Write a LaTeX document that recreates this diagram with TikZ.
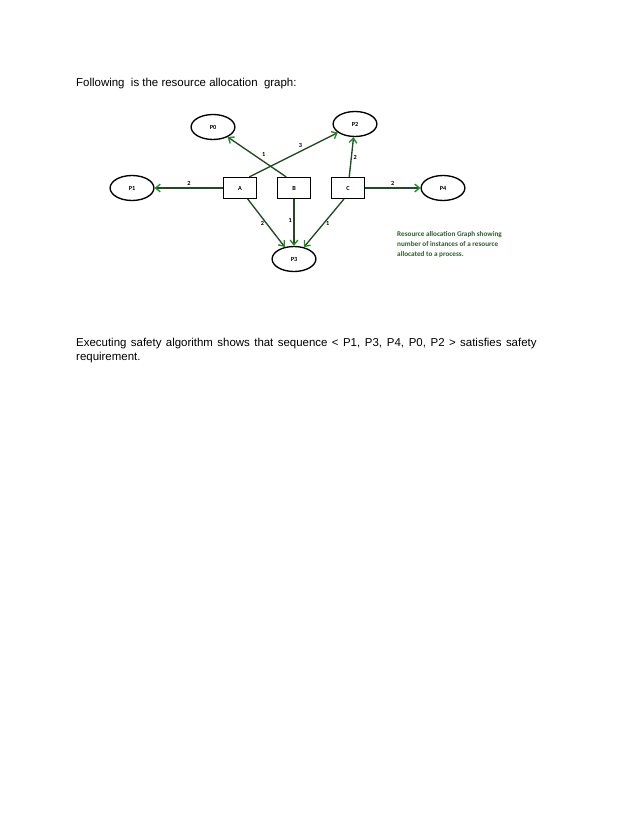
\documentclass[tikz,border=0pt]{standalone}
\usepackage{fontspec}
\setmainfont{Liberation Sans}
\newfontfamily\diagfont{Carlito}
\usetikzlibrary{shapes,arrows.meta,positioning}
\definecolor{linegreen}{rgb}{.13,.30,.13}
\definecolor{tipgreen}{rgb}{.12,.55,.15}
\definecolor{capgreen}{rgb}{.18,.36,.18}
\begin{document}
\begin{tikzpicture}[x=0.96pt,y=-0.96pt,% pixel grid of the page, y down
			proc/.style={ellipse,draw=black,line width=1.3pt,minimum width=42pt,minimum height=24pt,
				inner sep=0pt,font=\diagfont\bfseries\fontsize{6}{7}\selectfont},
			res/.style={rectangle,draw=black,line width=1.2pt,minimum width=31pt,minimum height=20pt,
				inner sep=0pt,font=\diagfont\bfseries\fontsize{6}{7}\selectfont},
			num/.style={font=\diagfont\bfseries\fontsize{6}{7}\selectfont,inner sep=1.5pt},
			every edge/.style={draw=linegreen,line width=1.3pt,
				-{Straight Barb[color=tipgreen,length=4.5pt,width=7.5pt,line width=1.3pt]}}
		]
		\useasboundingbox (0,0) rectangle (638,826);
		% texts of the page
		\node[anchor=base west,inner sep=0pt,font=\fontsize{11}{13}\selectfont](T1) at (76,87)
			{Following\ \ is\ the\ resource\ allocation\ \ graph:};
		\node[anchor=north west,inner sep=0pt,text width=442pt,align=justify,
			font=\fontsize{11}{13.4}\selectfont](T2) at (76,338)
			{Executing safety algorithm shows that sequence < P1, P3, P4, P0, P2 > satisfies safety requirement.};
		% processes
		\node[proc](P0) at (213,127) {P0};
		\node[proc](P2) at (355,124) {P2};
		\node[proc](P1) at (132,188) {P1};
		\node[proc](P4) at (443,188) {P4};
		\node[proc](P3) at (294,259) {P3};
		% resources
		\node[res](A) at (240,188) {A};
		\node[res](B) at (294,188) {B};
		\node[res](C) at (348,188) {C};
		\node[anchor=north west,inner sep=0pt,align=left,text=capgreen,
			font=\diagfont\bfseries\fontsize{6.9}{9.8}\selectfont](Cap) at (397,231)
			{Resource allocation Graph showing\\ number of instances of a resource\\ allocated to a process.};
		\path
		(A)edge node[num,above] {2} (P1)
		(B.125)edge node[num,pos=0.45,above right] {1} (P0)
		(A.50)edge node[num,pos=0.62,above left] {3} (P2)
		(C)edge node[num,right] {2} (P2)
		(C)edge node[num,above] {2} (P4)
		(A.-55)edge node[num,left] {2} (P3)
		(B)edge node[num,pos=0.45,left] {1} (P3)
		(C.-110)edge node[num,right] {1} (P3)
		;
	\end{tikzpicture}
\end{document}
